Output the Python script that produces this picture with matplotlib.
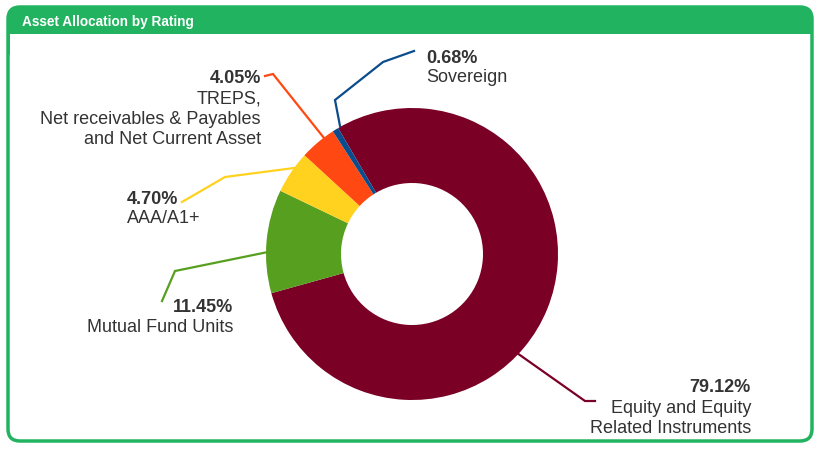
import matplotlib
matplotlib.use("Agg")
import matplotlib.pyplot as plt
from matplotlib.patches import FancyBboxPatch, Rectangle
from matplotlib import font_manager

# ---- data ----
categories = ["Equity and Equity\nRelated Instruments", "Mutual Fund Units", "AAA/A1+",
              "TREPS,\nNet receivables & Payables\nand Net Current Asset", "Sovereign"]
values = [79.12, 11.45, 4.70, 4.05, 0.68]
value_labels = ["79.12%", "11.45%", "4.70%", "4.05%", "0.68%"]
colors = ["#7a0026", "#579f1e", "#ffd220", "#ff4812", "#0b4c8c"]
title = "Asset Allocation by Rating"

W, H = 818, 450
fig = plt.figure(figsize=(W / 100, H / 100), dpi=100)
ax = fig.add_axes([0, 0, 1, 1])


def Y(y):
    return H - y


GREEN = "#21b35f"
TXT = "#333333"
names = {f.name for f in font_manager.fontManager.ttflist}
narrow = "Liberation Sans Narrow" in names
title_family = ["Liberation Sans Narrow", "Liberation Sans"] if narrow else ["Liberation Sans"]
title_fs = 11 if narrow else 9.8
FAM = ["Liberation Sans", "DejaVu Sans"]

# frame
ax.add_patch(FancyBboxPatch((8, Y(441)), 804, 434, boxstyle="round,pad=0,rounding_size=12",
                            facecolor="white", edgecolor="none", zorder=0))
ax.add_patch(FancyBboxPatch((8, Y(60)), 804, 53, boxstyle="round,pad=0,rounding_size=12",
                            facecolor=GREEN, edgecolor="none", zorder=1))
ax.add_patch(Rectangle((9.5, Y(439)), 801, 405, facecolor="white", edgecolor="none", zorder=2))
ax.add_patch(FancyBboxPatch((8, Y(441)), 804, 434, boxstyle="round,pad=0,rounding_size=12",
                            facecolor="none", edgecolor=GREEN, linewidth=2.5, zorder=3))
ax.text(22, Y(26), title, color="white", fontsize=title_fs, fontweight="bold",
        family=title_family, ha="left", va="baseline", zorder=4)

# donut
cx, cy, R, r_in = 412, 254, 146, 71
ax.pie(values, colors=colors, startangle=120.4, counterclock=False, radius=R,
       center=(cx, Y(cy)), wedgeprops=dict(width=R - r_in, linewidth=0, zorder=5))

# leader lines (screen pixel coords)
leaders = [
    [(517, 353), (585, 401), (595, 401)],
    [(268, 252), (175, 271), (162, 301)],
    [(294, 168), (225, 177), (182, 202)],
    [(324, 138), (273, 74), (265, 76)],
    [(340, 126), (335, 100), (383, 62), (414, 51)],
]
for pts, c in zip(leaders, colors):
    ax.plot([p[0] for p in pts], [Y(p[1]) for p in pts], color=c, lw=1.6,
            solid_joinstyle="miter", zorder=6)

# labels: (x, ha, baselines)
label_pos = [
    (751, "right", [392, 413, 433]),
    (233, "right", [312, 332]),
    (127, "left", [204, 223]),
    (261, "right", [83, 104, 124, 144]),
    (426, "left", [63, 82]),
]
FS = 13
for (x, ha, bls), v, cat in zip(label_pos, value_labels, categories):
    ax.text(x, Y(bls[0]), v, fontsize=FS, fontweight="bold", color=TXT, family=FAM,
            ha=ha, va="baseline", zorder=7)
    for line, b in zip(cat.split("\n"), bls[1:]):
        ax.text(x, Y(b), line, fontsize=FS, color=TXT, family=FAM,
                ha=ha, va="baseline", zorder=7)

ax.set_xlim(0, W)
ax.set_ylim(0, H)
ax.set_aspect("equal")
ax.axis("off")
fig.savefig("out.png", dpi=100, facecolor="white")
